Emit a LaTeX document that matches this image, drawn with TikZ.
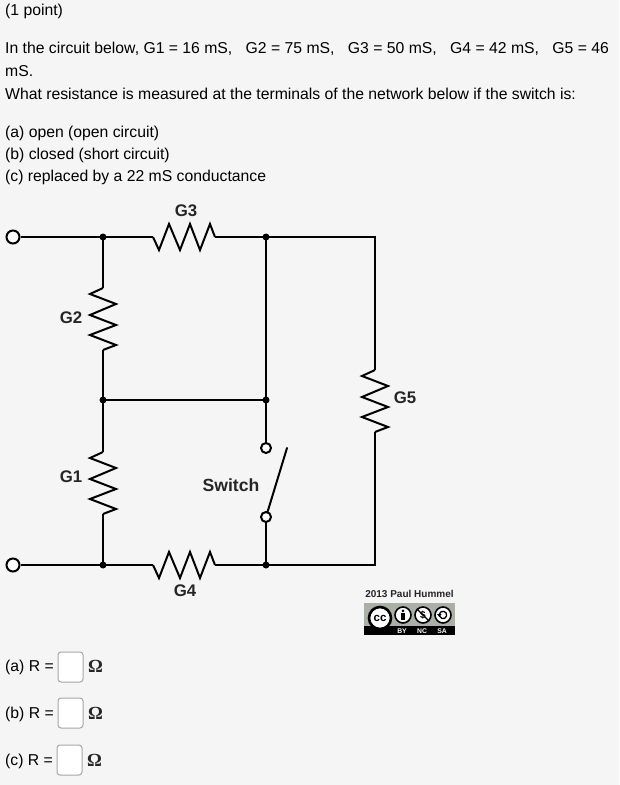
\documentclass[tikz,border=0pt]{standalone}
\usepackage{fontspec}
\setmainfont{Liberation Sans}
\newfontfamily\omegafont{Liberation Serif}
\definecolor{pagebg}{HTML}{F5F5F5}
\definecolor{badgegray}{HTML}{AAB0A6}
\usetikzlibrary{calc}
\tikzset{
    wire/.style={line width=2pt, line join=miter},
    terminal/.style={circle, draw, fill=white, line width=2pt, inner sep=0pt},
    question/.style={anchor=west, inner sep=0pt, font=\fontsize{15.75}{16}\selectfont},
    label/.style={inner sep=0pt, font=\fontsize{16.8}{16}\selectfont\bfseries, text=black!85},
    ansbox/.style={draw=black!35, fill=white, rounded corners=3pt, line width=1pt, minimum width=25pt, minimum height=30pt, inner sep=0pt},
    ohm/.style={inner sep=0pt, font=\fontsize{18.5}{19}\selectfont\omegafont\bfseries, text=black!85},
    resistor/.pic={
        \draw[wire] (0,0)--(6,13)--(16,-13)--(27,13)--(37,-13)--(47,13)--(57,-13)--(62,0);
    },
    badgeicon/.style={circle, draw=black, fill=white, line width=1.6pt, minimum size=16pt, inner sep=0pt},
    badgetext/.style={inner sep=0pt, text=white, font=\fontsize{6.8}{6.8}\selectfont\bfseries},
}
\begin{document}
\begin{tikzpicture}[x=1pt, y=-1pt]
    \fill[pagebg] (0,0) rectangle (619,785);
    \useasboundingbox (0,0) rectangle (619,785);

    % question text
    \node[question] (point) at (5,11) {(1 point)};
    \node[question] (lineA) at (5,49) {In the circuit below, G1 = 16 mS,\hspace{9pt} G2 = 75 mS,\hspace{9pt} G3 = 50 mS,\hspace{9pt} G4 = 42 mS,\hspace{9pt} G5 = 46};
    \node[question] (lineB) at (5,71) {mS.};
    \node[question] (lineC) at (5,94) {What resistance is measured at the terminals of the network below if the switch is:};
    \node[question] (partA) at (5,133) {(a) open (open circuit)};
    \node[question] (partB) at (5,155) {(b) closed (short circuit)};
    \node[question] (partC) at (5,177) {(c) replaced by a 22 mS conductance};

    % circuit points
    \coordinate (topA) at (103,237);
    \coordinate (topB) at (266,237);
    \coordinate (topC) at (375,237);
    \coordinate (midA) at (103,400);
    \coordinate (midB) at (266,400);
    \coordinate (botA) at (103,565);
    \coordinate (botB) at (266,565);
    \coordinate (botC) at (375,565);
    \coordinate (gThreeL) at (153,237);
    \coordinate (gThreeR) at (215,237);
    \coordinate (gFourL) at (153,565);
    \coordinate (gFourR) at (215,565);
    \coordinate (gTwoT) at (103,288);
    \coordinate (gTwoB) at (103,350);
    \coordinate (gOneT) at (103,452);
    \coordinate (gOneB) at (103,514);
    \coordinate (gFiveT) at (375,370);
    \coordinate (gFiveB) at (375,432);
    \coordinate (armEnd) at (287,448);

    \node[terminal, minimum size=13pt] (termTop) at (13,237) {};
    \node[terminal, minimum size=13pt] (termBot) at (13,565) {};
    \node[terminal, minimum size=10pt] (swTop) at (266,448) {};
    \node[terminal, minimum size=10pt] (swBot) at (266,517) {};

    \draw[wire] (termTop)--(gThreeL) (gThreeR)--(topC)--(gFiveT) (gFiveB)--(botC)--(gFourR) (gFourL)--(termBot);
    \draw[wire] (topA)--(gTwoT) (gTwoB)--(gOneT) (gOneB)--(botA);
    \draw[wire] (topB)--(swTop) (swBot)--(botB);
    \draw[wire] (midA)--(midB);
    \draw[wire, line cap=round] (swBot)--(armEnd);

    \pic at (gThreeL) {resistor};
    \pic at (gFourL) {resistor};
    \pic[rotate=-90] at (gTwoT) {resistor};
    \pic[rotate=-90] at (gOneT) {resistor};
    \pic[rotate=-90] at (gFiveT) {resistor};

    \foreach \i in {topA,topB,midA,midB,botA,botB} {
        \fill (\i) circle (3.5pt);
    }

    \node[label] (labelGThree) at (186,211) {G3};
    \node[label] (labelGTwo) at (71,318) {G2};
    \node[label] (labelGOne) at (71,477) {G1};
    \node[label] (labelGFive) at (405,398) {G5};
    \node[label] (labelGFour) at (185,591) {G4};
    \node[label, font=\fontsize{17.6}{17}\selectfont\bfseries] (labelSwitch) at (231,485) {Switch};

    % cc badge
    \node[inner sep=0pt, font=\fontsize{10}{10}\selectfont\bfseries, text=black!85] (credit) at (409.5,594) {2013 Paul Hummel};
    \fill[badgegray] (364,603) rectangle (455,635);
    \fill[black] (364,626) rectangle (455,635);
    \node[circle, draw=black, fill=white, line width=2.6pt, minimum size=22pt, inner sep=0pt, font=\fontsize{11.5}{11.5}\selectfont\bfseries] (ccIcon) at (380,618) {cc};
    \node[badgeicon] (byIcon) at (403,615) {};
    \node[badgeicon, font=\fontsize{10}{10}\selectfont\bfseries] (ncIcon) at (423,615) {\$};
    \node[badgeicon] (saIcon) at (443,615) {};
    \fill (byIcon.center)+(0,-4.2) circle (1.5pt);
    \fill ($(byIcon.center)+(-2,-2)$) rectangle ($(byIcon.center)+(2,5)$);
    \draw[line width=1.2pt] (ncIcon.north west)--(ncIcon.south east);
    \draw[line width=1.3pt] (saIcon.center)+(-3.6,-1) arc[start angle=165, end angle=-165, radius=3.7pt];
    \fill ($(saIcon.center)+(-6,-1)$)--($(saIcon.center)+(-1.4,-1)$)--($(saIcon.center)+(-3.6,2)$)--cycle;
    \node[badgetext] (byText) at (402,631) {BY};
    \node[badgetext] (ncText) at (422,631) {NC};
    \node[badgetext] (saText) at (442,631) {SA};

    % answers
    \node[question] (ansA) at (5,667) {(a) R =};
    \node[question] (ansB) at (5,714) {(b) R =};
    \node[question] (ansC) at (5,761) {(c) R =};
    \node[ansbox] (boxA) at (70.5,667) {};
    \node[ansbox] (boxB) at (70.5,713) {};
    \node[ansbox] (boxC) at (69.5,760) {};
    \node[ohm] (ohmA) at (95.5,666) {Ω};
    \node[ohm] (ohmB) at (95.5,713) {Ω};
    \node[ohm] (ohmC) at (94.5,760) {Ω};
\end{tikzpicture}
\end{document}
